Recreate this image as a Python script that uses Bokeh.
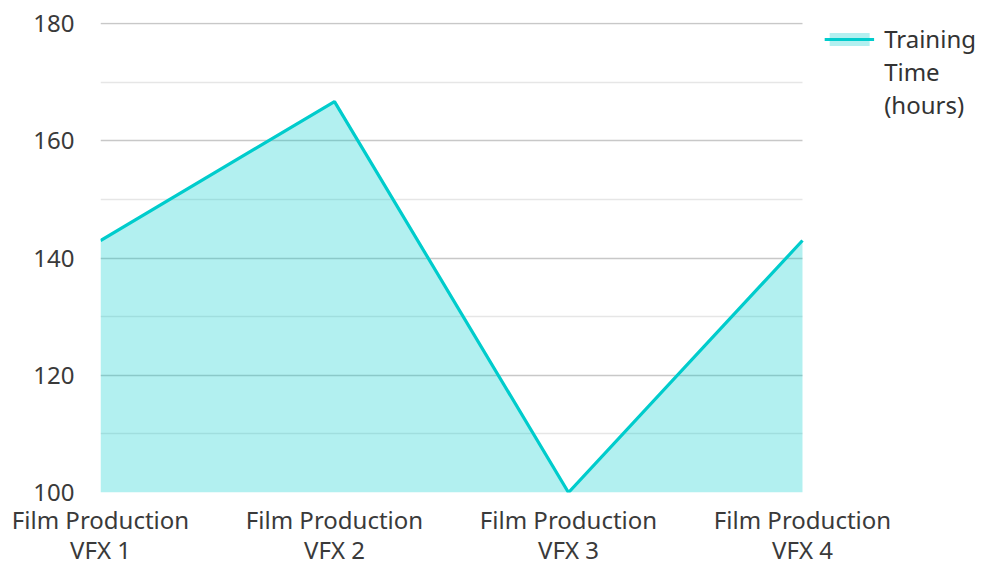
from bokeh.plotting import figure
from bokeh.models import Legend, LegendItem, FixedTicker, Range1d
from bokeh.embed import file_html
from bokeh.resources import INLINE

categories = ["Film Production\nVFX 1", "Film Production\nVFX 2", "Film Production\nVFX 3", "Film Production\nVFX 4"]
training_hours = [143, 166.7, 100, 143]
y_ticks = [100, 120, 140, 160, 180]
y_minor = [110, 130, 150, 170]
series_label_lines = ["Training", "Time", "(hours)"]

FONT = "Noto Sans"
LINE = "#00cccc"

W, H = 976, 568
LEFT, TOP = 100, 22
PLOT_W = 702  # width of the data area; the rest on the right holds the legend

x = list(range(len(categories)))
y_start, y_end = 100, 180
x_end = (len(categories) - 1) * (W - LEFT) / PLOT_W

p = figure(width=W, height=H, output_backend="svg", toolbar_location=None,
           x_range=Range1d(0, x_end), y_range=Range1d(y_start, y_end + 0.2),
           min_border_left=LEFT, min_border_top=TOP, min_border_right=0, min_border_bottom=60)
p.outline_line_color = None
p.background_fill_color = "white"
p.border_fill_color = "white"

area = p.varea(x=x, y1=[y_start] * len(x), y2=training_hours, fill_color=LINE, fill_alpha=0.3)
line = p.line(x=x, y=training_hours, line_color=LINE, line_width=3.2)
blank = p.line(x=[], y=[], line_alpha=0)

# axes
p.xaxis.ticker = FixedTicker(ticks=x)
p.xaxis.major_label_overrides = {i: c for i, c in enumerate(categories)}
p.yaxis.ticker = FixedTicker(ticks=y_ticks, minor_ticks=y_minor)
for ax in (p.xaxis[0], p.yaxis[0]):
    ax.axis_line_color = None
    ax.major_tick_line_color = None
    ax.minor_tick_line_color = None
    ax.major_label_text_font = FONT
    ax.major_label_text_font_size = "24px"
    ax.major_label_text_color = "#3a3a3a"
p.xaxis.major_label_text_line_height = 0.92
p.xaxis.major_label_standoff = 4
p.yaxis.major_label_standoff = 20

p.xgrid.grid_line_color = None
p.ygrid.cross_bounds = (0, len(categories) - 1)
p.ygrid.grid_line_color = "#c8c8c8"
p.ygrid.grid_line_width = 1.5
p.ygrid.minor_grid_line_color = "#e6e6e6"
p.ygrid.minor_grid_line_width = 1.5

items = [LegendItem(label=series_label_lines[0], renderers=[area, line])]
items += [LegendItem(label=t, renderers=[blank]) for t in series_label_lines[1:]]
legend = Legend(items=items, location="top_right", border_line_color=None, background_fill_alpha=0,
                margin=0, padding=0, spacing=0, glyph_width=50, glyph_height=16, label_standoff=10,
                label_text_font=FONT, label_text_font_size="24px", label_text_color="#333333",
                label_text_line_height=0.95)
p.add_layout(legend, "center")

open("out.html", "w").write(file_html(p, INLINE))
